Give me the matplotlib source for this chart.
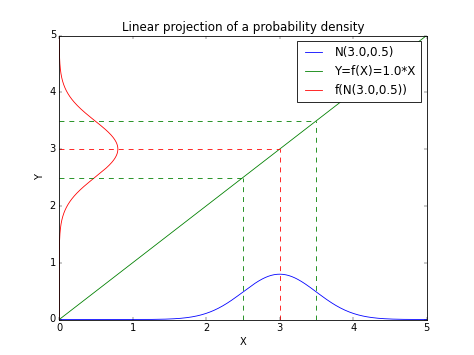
import numpy as np
import matplotlib
matplotlib.use("Agg")
import matplotlib.pyplot as plt

# Distribution and projection parameters (as given in the legend)
mu = 3.0
sigma = 0.5
slope = 1.0

# Projection guide positions
guide_x = [2.5, 3.0, 3.5]
guide_colors = ['g', 'r', 'g']

plt.style.use('classic')

x = np.linspace(0, 5, 500)
pdf_x = np.exp(-0.5 * ((x - mu) / sigma) ** 2) / (sigma * np.sqrt(2 * np.pi))
y = slope * x
# density of Y = slope * X, drawn along the Y axis
pdf_y = np.exp(-0.5 * ((x - slope * mu) / (slope * sigma)) ** 2) / (slope * sigma * np.sqrt(2 * np.pi))

fig = plt.figure(figsize=(8, 355 / 59.25), dpi=59.25)
ax = fig.add_subplot(111)

ax.plot(x, pdf_x, 'b', label='N(%.1f,%.1f)' % (mu, sigma))
ax.plot(x, y, 'g', label='Y=f(X)=%.1f*X' % slope)
ax.plot(pdf_y, x, 'r', label='f(N(%.1f,%.1f))' % (slope * mu, slope * sigma))

# dashed projection lines
for gx, c in zip(guide_x, guide_colors):
    gy = slope * gx
    ax.plot([gx, gx], [0, gy], c + '--')
    ax.plot([0, gx], [gy, gy], c + '--')

ax.set_xlim(0, 5)
ax.set_ylim(0, 5)
ax.set_xlabel('X')
ax.set_ylabel('Y')
ax.set_title('Linear projection of a probability density')
ax.legend(loc='upper right')

fig.savefig('out.png', dpi=59.25)
